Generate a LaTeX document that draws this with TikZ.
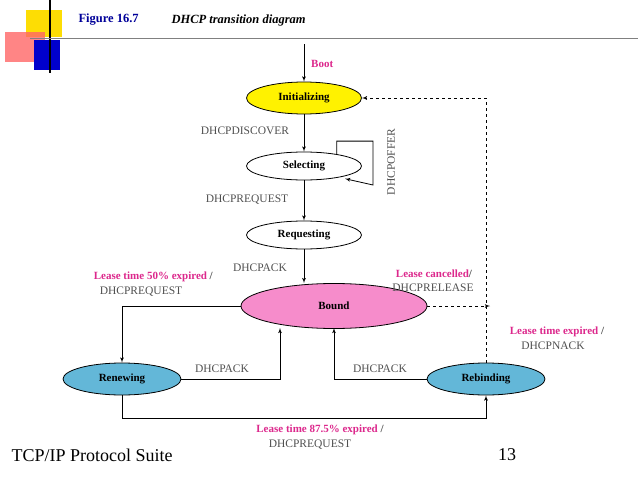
\documentclass[tikz,border=0pt]{standalone}
\usepackage{fontspec}
\setmainfont{Liberation Serif}
\usetikzlibrary{shapes.geometric,arrows}
\definecolor{lblpink}{RGB}{220,40,140}
\definecolor{msggray}{RGB}{80,80,80}
\tikzstyle{state} = [ellipse, draw, thick, font=\bfseries\fontsize{11}{13}\selectfont, inner sep=0pt]
\tikzstyle{line} = [draw, thick, -latex']
\tikzstyle{dline} = [draw, thick, dashed, -latex']
\tikzstyle{event} = [text=lblpink, font=\bfseries\fontsize{11}{13}\selectfont, inner sep=1pt]
\tikzstyle{msg} = [text=msggray, font=\fontsize{11.5}{13}\selectfont, inner sep=1pt]

\begin{document}
\begin{tikzpicture}[x=1pt, y=-1pt]
    \useasboundingbox (0,0) rectangle (638,479);
    % Slide decoration
    \fill[yellow!80!orange] (26,10) rectangle (62,37);
    \fill[red!60, opacity=0.8] (5,32) rectangle (45,62);
    \fill[blue!80!black] (34,40) rectangle (60,70);
    \draw[very thick] (50,0) -- (50,73);
    \draw[gray, thick] (30,38) -- (638,38);
    \node[anchor=west, text=blue!60!black, font=\bfseries\fontsize{12.5}{14}\selectfont] (fig) at (75,20) {Figure 16.7};
    \node[anchor=west, font=\bfseries\itshape\fontsize{12.5}{14}\selectfont] (cap) at (168,20) {DHCP transition diagram};

    % Place states
    \node [state, fill=yellow, minimum width=115, minimum height=32] (init) at (304,98) {Initializing};
    \node [state, fill=white, minimum width=115, minimum height=28] (sel) at (304,166) {Selecting};
    \node [state, fill=white, minimum width=115, minimum height=28] (req) at (304,235) {Requesting};
    \node [state, fill=magenta!45, minimum width=186, minimum height=45] (bound) at (334,306) {Bound};
    \node [state, fill=cyan!60!teal!70, minimum width=118, minimum height=32] (renew) at (122,379) {Renewing};
    \node [state, fill=cyan!60!teal!70, minimum width=118, minimum height=32] (rebind) at (486,379) {Rebinding};

    % Helper coordinates
    \coordinate (start) at (304,44);
    \coordinate (dright) at (490,306);
    \coordinate (dtop) at (486,98);

    % Draw edges
    \path [line] (start) -- (init);
    \node [event, anchor=west] (boot) at (310,64) {Boot};
    \path [line] (init) -- (sel);
    \node [msg] (disc) at (245,131) {DHCPDISCOVER};
    \path [line] (sel.20) -- ++(0,-13) -| (373,185) -- (sel.-25 -| 345,0);
    \node [msg, rotate=90] (offer) at (391,162) {DHCPOFFER};
    \path [line] (sel) -- (req);
    \node [msg] (dreq) at (247,200) {DHCPREQUEST};
    \path [line] (req) -- (bound.north -| req);
    \node [msg] (ack1) at (260,268) {DHCPACK};

    \path [line] (bound.west) -| (renew.north);
    \node [event, anchor=east] (e50) at (214,277) {Lease time 50\% expired \textcolor{msggray}{/}};
    \node [msg] (r50) at (141,292) {DHCPREQUEST};
    \path [line] (renew.east) -| (280,328);
    \node [msg] (ack2) at (222,369) {DHCPACK};
    \path [line] (rebind.west) -| (334,328);
    \node [msg] (ack3) at (380,369) {DHCPACK};
    \path [line] (renew.south) -- ++(0,23) -| (rebind.south);
    \node [event] (e875) at (320,430) {Lease time 87.5\% expired \textcolor{msggray}{/}};
    \node [msg] (r875) at (310,445) {DHCPREQUEST};

    \path [dline] (bound.east) -- (dright);
    \node [event] (ecan) at (434,274) {Lease cancelled\textcolor{msggray}{/}};
    \node [msg] (rrel) at (433,288) {DHCPRELEASE};
    \path [dline] (rebind.north) -- (dtop) -- (init.east);
    \node [event] (eexp) at (557,332) {Lease time expired \textcolor{msggray}{/}};
    \node [msg] (nack) at (553,346) {DHCPNACK};

    % Footer
    \node[anchor=west, font=\fontsize{18}{20}\selectfont] (foot) at (8,455) {TCP/IP Protocol Suite};
    \node[font=\fontsize{18}{20}\selectfont] (page) at (507,455) {13};
\end{tikzpicture}
\end{document}
